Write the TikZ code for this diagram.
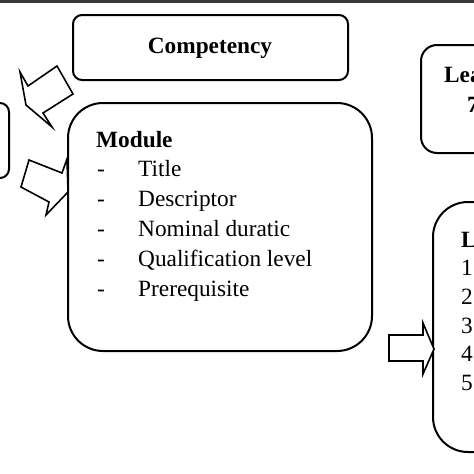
\documentclass[tikz,border=0pt]{standalone}
\usepackage{fontspec}
\setmainfont{Liberation Serif}
\usepackage{tikz}
\usetikzlibrary{positioning}

\tikzset{
  box/.style={draw,line width=2pt},
  blockarrow/.style={draw,line width=1.6pt,fill=white,line join=miter},
  txt/.style={font=\fontsize{23.3}{28}\selectfont,inner sep=0pt,anchor=base west}
}

\begin{document}
\begin{tikzpicture}[x=1pt,y=-1pt]
\useasboundingbox (0,0) rectangle (474,474);
\clip (0,0) rectangle (474,474);
\fill[black!78] (0,0) rectangle (474,3);
% boxes
\draw[box,rounded corners=9pt] (73,15) rectangle (348,80);
\draw[box,rounded corners=35pt] (68,103) rectangle (372,351);
\draw[box,rounded corners=9pt] (-20,103) rectangle (9,178);
\draw[box,rounded corners=16pt] (421,45) rectangle (500,153);
\draw[box,rounded corners=35pt] (433,202) rectangle (520,452);
% block arrows
\draw[blockarrow] (20,72) -- (28,86) -- (57,66) -- (73,94) -- (43,113) -- (52,127) -- (26,105) -- cycle;
\draw[blockarrow] (29,160) -- (62,173) -- (67,159) -- (68,192) -- (46,215) -- (49,202) -- (21,187) -- cycle;
\draw[blockarrow] (389,335) -- (423,335) -- (423,323) -- (434,349) -- (423,374) -- (423,361) -- (389,361) -- cycle;
\draw[line width=2pt] (68,150) -- (68,200);
% texts
\node[txt,anchor=base] (comp) at (210,53) {\bfseries Competency};
\node[txt] (mod) at (96,147) {\bfseries Module};
\foreach \t [count=\i] in {Title,Descriptor,Nominal duratic,Qualification level,Prerequisite}{
  \node[txt] (dash\i) at (97,{147+29.8*\i}) {-};
  \node[txt] (item\i) at (138,{147+29.8*\i}) {\t};
}
\node[txt] (lea) at (444,82) {\bfseries Lea};
\node[txt] (seven) at (467,112) {\bfseries 7};
\node[txt] (ltitle) at (461,247) {\bfseries L};
\foreach \n in {1,...,5}{
  \node[txt] (num\n) at (461,{247+28.7*\n}) {\n};
}
\end{tikzpicture}
\end{document}
